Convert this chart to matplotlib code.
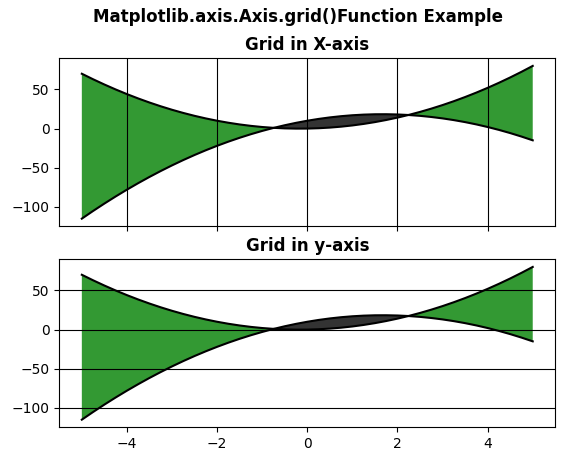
import matplotlib
matplotlib.use("Agg")
import matplotlib.pyplot as plt

# values (x step 0.25)
x = [-5.0, -4.75, -4.5, -4.25, -4.0, -3.75, -3.5, -3.25, -3.0, -2.75, -2.5,
     -2.25, -2.0, -1.75, -1.5, -1.25, -1.0, -0.75, -0.5, -0.25, 0.0,
     0.25, 0.5, 0.75, 1.0, 1.25, 1.5, 1.75, 2.0, 2.25, 2.5,
     2.75, 3.0, 3.25, 3.5, 3.75, 4.0, 4.25, 4.5, 4.75, 5.0]
y1 = [70.0, 62.94, 56.25, 49.94, 44.0, 38.44, 33.25, 28.44, 24.0, 19.94, 16.25,
      12.94, 10.0, 7.44, 5.25, 3.44, 2.0, 0.94, 0.25, -0.06, 0.0,
      0.44, 1.25, 2.44, 4.0, 5.94, 8.25, 10.94, 14.0, 17.44, 21.25,
      25.44, 30.0, 34.94, 40.25, 45.94, 52.0, 58.44, 65.25, 72.44, 80.0]
y2 = [-115.0, -105.19, -95.75, -86.69, -78.0, -69.69, -61.75, -54.19, -47.0, -40.19, -33.75,
      -27.69, -22.0, -16.69, -11.75, -7.19, -3.0, 0.81, 4.25, 7.31, 10.0,
      12.31, 14.25, 15.81, 17.0, 17.81, 18.25, 18.31, 18.0, 17.31, 16.25,
      14.81, 13.0, 10.81, 8.25, 5.31, 2.0, -1.69, -5.75, -10.19, -15.0]

fig = plt.figure(figsize=(5.75, 4.73), dpi=100)
ax = fig.add_axes([0.1031, 0.5216, 0.8626, 0.3552])
ax1 = fig.add_axes([0.1031, 0.0966, 0.8626, 0.3552], sharex=ax)

green = [a > b for a, b in zip(y1, y2)]
dark = [a <= b for a, b in zip(y1, y2)]

for a in (ax, ax1):
    a.plot(x, y1, x, y2, color='black')
    a.fill_between(x, y1, y2, where=green, facecolor='green', alpha=0.8, interpolate=True)
    a.fill_between(x, y1, y2, where=dark, facecolor='black', alpha=0.8, interpolate=True)

ax.xaxis.grid(True, color='black', linestyle='-')
ax.tick_params(labelbottom=False)
ax.set_title('Grid in X-axis', fontweight='bold')

ax1.yaxis.grid(True, color='black', linestyle='-')
ax1.set_title('Grid in y-axis', fontweight='bold')

fig.suptitle('Matplotlib.axis.Axis.grid()Function Example', fontweight='bold',
             x=0.518, y=0.983)

fig.savefig('out.png', dpi=100)
